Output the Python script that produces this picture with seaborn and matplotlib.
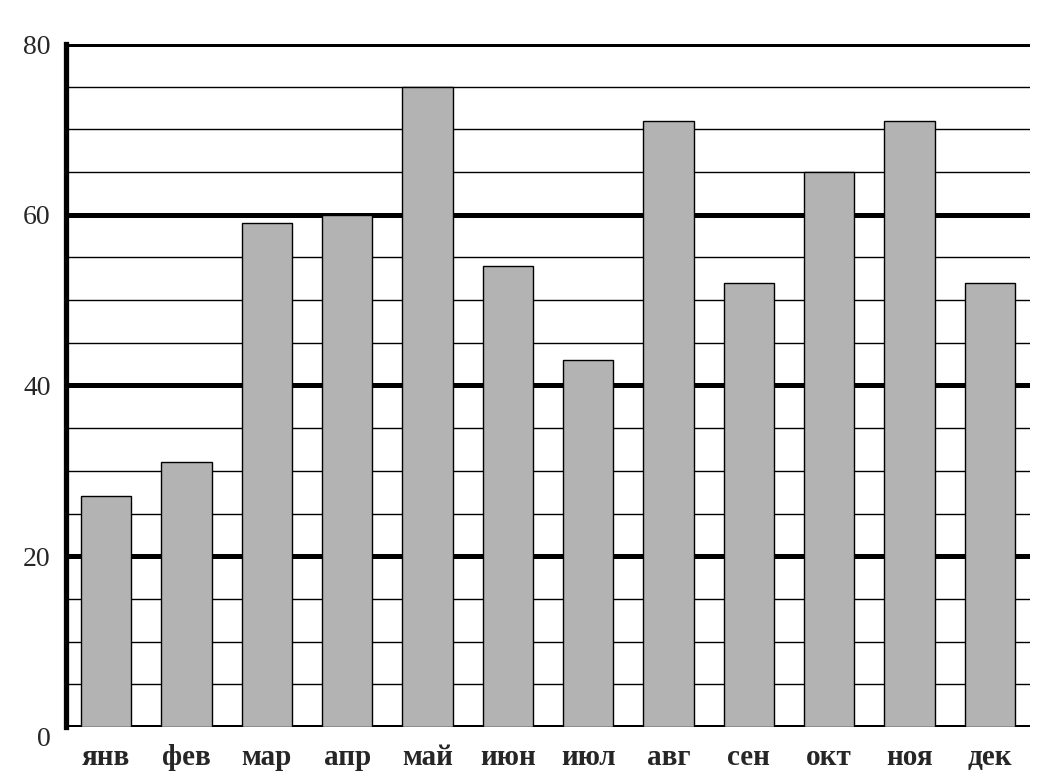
import matplotlib
matplotlib.use("Agg")
import matplotlib.pyplot as plt
import matplotlib.transforms as mtransforms
import seaborn as sns
import pandas as pd

# data
months = ["янв", "фев", "мар", "апр", "май", "июн",
          "июл", "авг", "сен", "окт", "ноя", "дек"]
values = [27, 31, 59, 60, 75, 54, 43, 71, 52, 65, 71, 52]
major_ticks = [0, 20, 40, 60, 80]
minor_ticks = list(range(0, 81, 5))

sns.set_style("white")
plt.rcParams["font.family"] = ["Liberation Serif", "DejaVu Serif"]

df = pd.DataFrame({"month": months, "value": values})

fig = plt.figure(figsize=(10.39, 7.78), dpi=100)
ax = fig.add_axes([0.0635, 0.0656, 0.9278, 0.8778])

sns.barplot(data=df, x="month", y="value", color="#b3b3b3",
            edgecolor="black", linewidth=1.0, width=0.625,
            saturation=1, ax=ax)

ax.set_xlim(-0.5, len(months) - 0.5)
ax.set_ylim(0, 80)
ax.set_yticks(major_ticks)
ax.set_yticks(minor_ticks, minor=True)
ax.set_axisbelow(True)
ax.grid(axis="y", which="major", color="black", linewidth=3.6)
ax.grid(axis="y", which="minor", color="black", linewidth=1.0)

for s in ["top", "right", "bottom"]:
    ax.spines[s].set_visible(False)
ax.spines["left"].set_linewidth(3.8)
ax.spines["left"].set_color("black")

ax.tick_params(axis="both", which="both", length=0)
ax.tick_params(axis="y", labelsize=20, pad=11)
ax.tick_params(axis="x", labelsize=21, pad=12)
for lbl in ax.get_xticklabels():
    lbl.set_fontweight("bold")
ax.set_xlabel("")
ax.set_ylabel("")

# the "0" label sits a bit below the baseline in the original
zero_lbl = ax.get_yticklabels()[0]
zero_lbl.set_transform(zero_lbl.get_transform() +
                       mtransforms.ScaledTranslation(0, -10 / 100, fig.dpi_scale_trans))

plt.savefig("out.png", dpi=100)
plt.close()
